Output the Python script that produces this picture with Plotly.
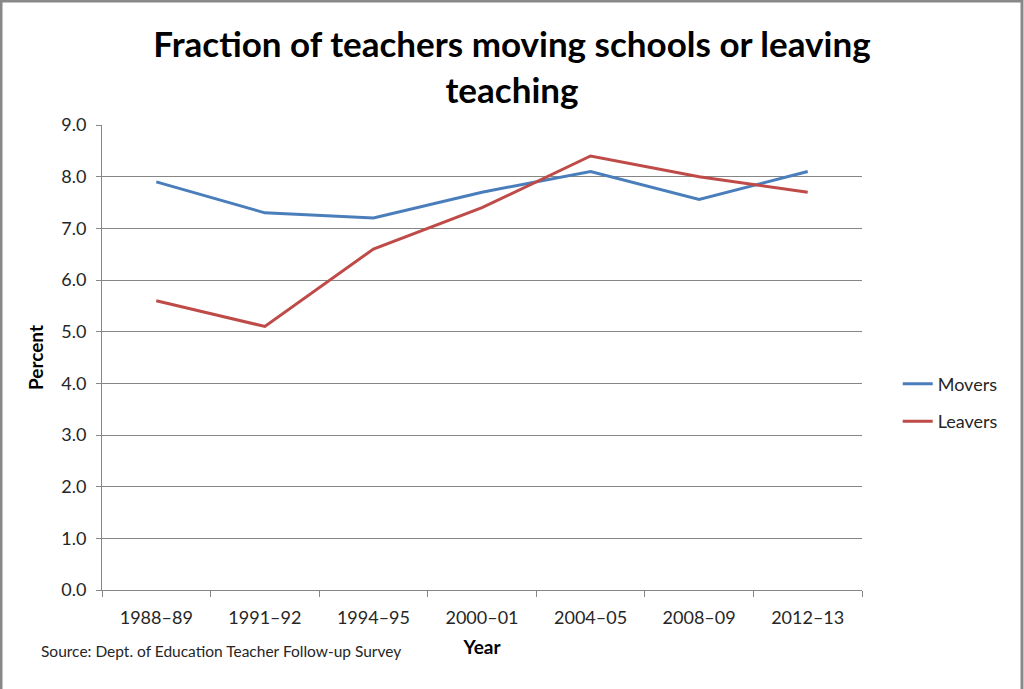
import plotly.graph_objects as go

years = ["1988–89", "1991–92", "1994–95", "2000–01", "2004–05", "2008–09", "2012–13"]
movers = [7.9, 7.3, 7.2, 7.7, 8.1, 7.56, 8.1]
leavers = [5.6, 5.1, 6.6, 7.4, 8.4, 8.0, 7.7]
y_ticks = [0, 1, 2, 3, 4, 5, 6, 7, 8, 9]

FONT = "Lato"
GRID = "#868686"

fig = go.Figure()
fig.add_trace(go.Scatter(x=years, y=movers, name="Movers", mode="lines",
                         line=dict(color="#4A7EBB", width=3), legendgroup="a"))
fig.add_trace(go.Scatter(x=years, y=leavers, name="Leavers", mode="lines",
                         line=dict(color="#BE4B48", width=3), legendgroup="b"))

fig.update_layout(
    width=1024, height=689,
    margin=dict(l=102, r=162, t=125, b=99),
    paper_bgcolor="white", plot_bgcolor="white",
    font=dict(family=FONT, color="#262626", size=18),
    title=dict(text="<b>Fraction of teachers moving schools or leaving<br>teaching</b>",
               x=0.5, xanchor="center", yref="container", y=1 - 57 / 689, yanchor="middle",
               font=dict(family=FONT, size=35, color="black")),
    showlegend=True,
    legend=dict(x=1.047, xanchor="left", y=0.403, yanchor="middle",
                font=dict(family=FONT, size=18, color="#262626"),
                tracegroupgap=11, traceorder="grouped",
                bgcolor="rgba(0,0,0,0)"),
    xaxis=dict(type="category", tickson="boundaries", ticks="outside", ticklen=6,
               tickcolor=GRID, showline=True, linecolor=GRID, linewidth=1,
               showgrid=False, tickfont=dict(size=18), ticklabelstandoff=11,
               title=dict(text="<b>Year</b>", font=dict(size=19, color="black"), standoff=14),
               range=[-0.5, 6.5]),
    yaxis=dict(range=[0, 9], tickvals=y_ticks, tickformat=".1f", ticks="outside",
               ticklen=5, tickcolor=GRID, showline=True, linecolor=GRID, linewidth=1,
               showgrid=True, gridcolor=GRID, gridwidth=1, zeroline=False,
               tickfont=dict(size=18), ticklabelstandoff=6,
               title=dict(text="<b>Percent</b>", font=dict(size=19, color="black"), standoff=12)),
    shapes=[dict(type="rect", xref="paper", yref="paper",
                 x0=-101/760, x1=920/760, y0=-104/465, y1=589/465,
                 line=dict(color="#888888", width=3), fillcolor="rgba(0,0,0,0)", layer="below")],
    annotations=[dict(text="Source: Dept. of Education Teacher Follow-up Survey",
                      xref="paper", yref="paper", x=-63/760, y=-61/465,
                      xanchor="left", yanchor="middle", showarrow=False,
                      font=dict(family=FONT, size=15.5, color="#262626"))],
)

fig.write_html("out.html")
